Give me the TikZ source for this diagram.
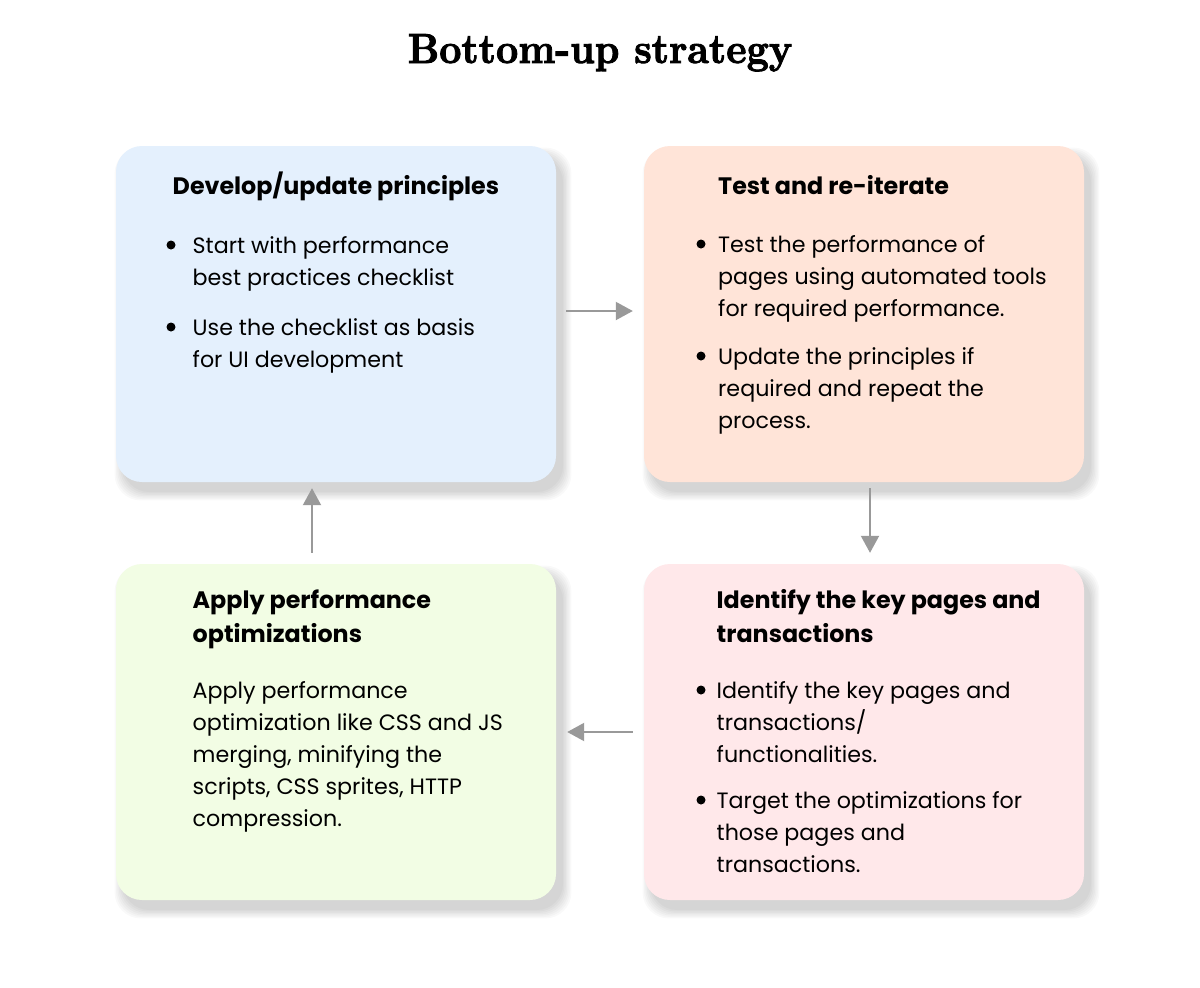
\documentclass[tikz,border=0pt]{standalone}
\usepackage{fontspec}
\setmainfont{Poppins}
\newfontfamily\titlefont[FakeBold=2.2]{lmroman10-bold.otf}
\usetikzlibrary{arrows.meta,calc}
\definecolor{cblue}{HTML}{E4F0FD}
\definecolor{cpeach}{HTML}{FFE4D8}
\definecolor{cgreen}{HTML}{F2FDE4}
\definecolor{cpink}{HTML}{FFE8EA}
\definecolor{arrgray}{HTML}{999999}
\newcommand\softshadow[4]{%
  \foreach \s in {0,2,...,12}{%
    \fill[black,opacity=0.022,rounded corners=26pt] (#1+7-\s*0.7,#2+10-\s*0.7) rectangle (#3+7+\s*0.7,#4+10+\s*0.7);}%
}
\tikzset{
  box/.style={rounded corners=26pt,minimum width=440pt,minimum height=336pt,inner sep=0pt,draw=none},
  arr/.style={draw=arrgray,line width=2pt,-{Triangle[length=17pt,width=18pt]}},
  txt/.style={anchor=base west,inner sep=0pt,font=\fontsize{22.2}{26}\selectfont},
  hd/.style={anchor=base west,inner sep=0pt,font=\fontsize{23.8}{27}\selectfont\bfseries},
  bul/.style={circle,fill=black,minimum size=9pt,inner sep=0pt},
}
\begin{document}
\begin{tikzpicture}[x=1pt,y=-1pt]
\useasboundingbox[fill=white] (0,0) rectangle (1200,988);
\node[inner sep=0pt,anchor=base,font=\titlefont\fontsize{42}{46}\selectfont] (title) at (600,63) {\scalebox{0.92}[1]{Bottom-up strategy}};
% shadows
\softshadow{116}{146}{556}{482}
\softshadow{644}{146}{1084}{482}
\softshadow{116}{564}{556}{900}
\softshadow{644}{564}{1084}{900}
% boxes
\node[box,fill=cblue] (b1) at (336,314) {};
\node[box,fill=cpeach] (b2) at (864,314) {};
\node[box,fill=cgreen] (b3) at (336,732) {};
\node[box,fill=cpink] (b4) at (864,732) {};
% arrows
\draw[arr,shorten <=10pt,shorten >=11pt] ([yshift=3pt]b1.east) -- ([yshift=3pt]b2.west);
\draw[arr,shorten <=6pt,shorten >=11pt] ([xshift=6pt]b2.south) -- ([xshift=6pt]b4.north);
\draw[arr,shorten <=11pt,shorten >=11pt] (b4.west) -- (b3.east);
\draw[arr,shorten <=11pt,shorten >=6pt] ([xshift=-24pt]b3.north) -- ([xshift=-24pt]b1.south);
% box 1
\node[hd] (h1) at (172.5,194) {Develop/update principles};
\node[bul] (d1a) at (171,245) {};
\node[txt] (t1a) at (192.5,253) {Start with performance};
\node[txt] (t1b) at (192.5,285) {best practices checklist};
\node[bul] (d1b) at (171,327) {};
\node[txt] (t1c) at (192.5,335) {Use the checklist as basis};
\node[txt] (t1d) at (192.5,367) {for UI development};
% box 2
\node[hd] (h2) at (718,194) {Test and re-iterate};
\node[bul] (d2a) at (701,244) {};
\node[txt] (t2a) at (718,252) {Test the performance of};
\node[txt] (t2b) at (718,284) {pages using automated tools};
\node[txt] (t2c) at (718,316) {for required performance.};
\node[bul] (d2b) at (701,356) {};
\node[txt] (t2d) at (718,364) {Update the principles if};
\node[txt] (t2e) at (718,396) {required and repeat the};
\node[txt] (t2f) at (718,428) {process.};
% box 3
\node[hd] (h3a) at (192.5,608) {Apply performance};
\node[hd] (h3b) at (192.5,642) {optimizations};
\node[txt] (t3a) at (192.5,698) {Apply performance};
\node[txt] (t3b) at (192.5,730) {optimization like CSS and JS};
\node[txt] (t3c) at (192.5,762) {merging, minifying the};
\node[txt] (t3d) at (192.5,794) {scripts, CSS sprites, HTTP};
\node[txt] (t3e) at (192.5,826) {compression.};
% box 4
\node[hd] (h4a) at (716.5,608) {Identify the key pages and};
\node[hd] (h4b) at (716.5,642) {transactions};
\node[bul] (d4a) at (701,690) {};
\node[txt] (t4a) at (716.5,698) {Identify the key pages and};
\node[txt] (t4b) at (716.5,730) {transactions/};
\node[txt] (t4c) at (716.5,762) {functionalities.};
\node[bul] (d4b) at (701,800) {};
\node[txt] (t4d) at (716.5,808) {Target the optimizations for};
\node[txt] (t4e) at (716.5,840) {those pages and};
\node[txt] (t4f) at (716.5,872) {transactions.};
\end{tikzpicture}
\end{document}
